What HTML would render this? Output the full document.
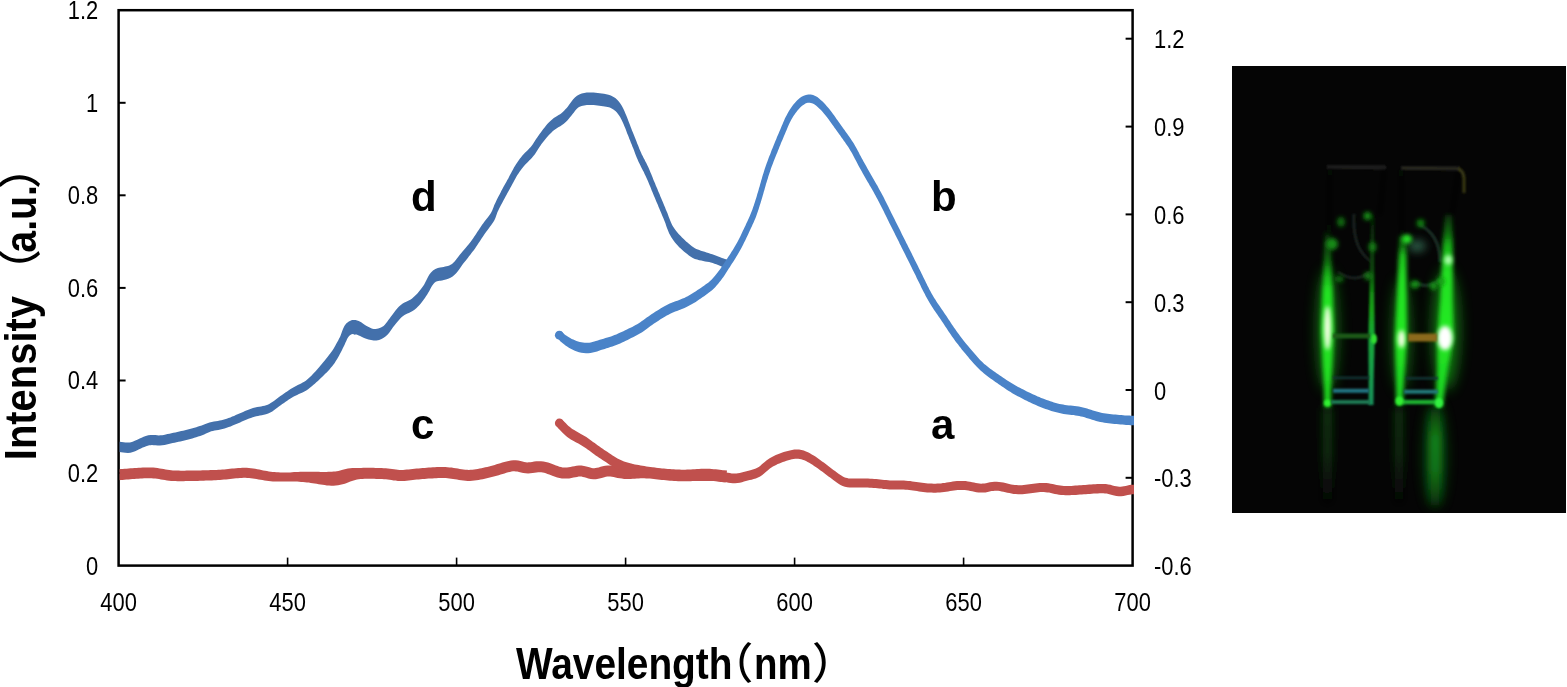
<!DOCTYPE html>
<html><head><meta charset="utf-8"><title>Spectra</title>
<style>html,body{margin:0;padding:0;background:#fff;width:1567px;height:687px;overflow:hidden}svg{display:block}</style>
</head><body>
<svg width="1567" height="687" viewBox="0 0 1567 687"><rect x="118.6" y="10.2" width="1014.0" height="555.4" fill="none" stroke="#000" stroke-width="2.5"/>
<text transform="translate(98.2 574.5) scale(0.86 1)" text-anchor="end" style="font-family:'Liberation Sans',sans-serif;font-size:25.5px;fill:#000">0</text>
<line x1="118.6" y1="473.0" x2="125.6" y2="473.0" stroke="#000" stroke-width="2"/>
<text transform="translate(98.2 481.9) scale(0.86 1)" text-anchor="end" style="font-family:'Liberation Sans',sans-serif;font-size:25.5px;fill:#000">0.2</text>
<line x1="118.6" y1="380.5" x2="125.6" y2="380.5" stroke="#000" stroke-width="2"/>
<text transform="translate(98.2 389.4) scale(0.86 1)" text-anchor="end" style="font-family:'Liberation Sans',sans-serif;font-size:25.5px;fill:#000">0.4</text>
<line x1="118.6" y1="287.9" x2="125.6" y2="287.9" stroke="#000" stroke-width="2"/>
<text transform="translate(98.2 296.8) scale(0.86 1)" text-anchor="end" style="font-family:'Liberation Sans',sans-serif;font-size:25.5px;fill:#000">0.6</text>
<line x1="118.6" y1="195.3" x2="125.6" y2="195.3" stroke="#000" stroke-width="2"/>
<text transform="translate(98.2 204.2) scale(0.86 1)" text-anchor="end" style="font-family:'Liberation Sans',sans-serif;font-size:25.5px;fill:#000">0.8</text>
<line x1="118.6" y1="102.8" x2="125.6" y2="102.8" stroke="#000" stroke-width="2"/>
<text transform="translate(98.2 111.7) scale(0.86 1)" text-anchor="end" style="font-family:'Liberation Sans',sans-serif;font-size:25.5px;fill:#000">1</text>
<text transform="translate(98.2 19.1) scale(0.86 1)" text-anchor="end" style="font-family:'Liberation Sans',sans-serif;font-size:25.5px;fill:#000">1.2</text>
<text transform="translate(1154.0 575.2) scale(0.86 1)" text-anchor="start" style="font-family:'Liberation Sans',sans-serif;font-size:25.5px;fill:#000">-0.6</text>
<line x1="1125.6" y1="477.8" x2="1132.6" y2="477.8" stroke="#000" stroke-width="2"/>
<text transform="translate(1154.0 487.4) scale(0.86 1)" text-anchor="start" style="font-family:'Liberation Sans',sans-serif;font-size:25.5px;fill:#000">-0.3</text>
<line x1="1125.6" y1="390.0" x2="1132.6" y2="390.0" stroke="#000" stroke-width="2"/>
<text transform="translate(1154.0 399.6) scale(0.86 1)" text-anchor="start" style="font-family:'Liberation Sans',sans-serif;font-size:25.5px;fill:#000">0</text>
<line x1="1125.6" y1="302.2" x2="1132.6" y2="302.2" stroke="#000" stroke-width="2"/>
<text transform="translate(1154.0 311.8) scale(0.86 1)" text-anchor="start" style="font-family:'Liberation Sans',sans-serif;font-size:25.5px;fill:#000">0.3</text>
<line x1="1125.6" y1="214.4" x2="1132.6" y2="214.4" stroke="#000" stroke-width="2"/>
<text transform="translate(1154.0 224.0) scale(0.86 1)" text-anchor="start" style="font-family:'Liberation Sans',sans-serif;font-size:25.5px;fill:#000">0.6</text>
<line x1="1125.6" y1="126.6" x2="1132.6" y2="126.6" stroke="#000" stroke-width="2"/>
<text transform="translate(1154.0 136.2) scale(0.86 1)" text-anchor="start" style="font-family:'Liberation Sans',sans-serif;font-size:25.5px;fill:#000">0.9</text>
<line x1="1125.6" y1="38.7" x2="1132.6" y2="38.7" stroke="#000" stroke-width="2"/>
<text transform="translate(1154.0 48.3) scale(0.86 1)" text-anchor="start" style="font-family:'Liberation Sans',sans-serif;font-size:25.5px;fill:#000">1.2</text>
<text transform="translate(118.6 610.8) scale(0.86 1)" text-anchor="middle" style="font-family:'Liberation Sans',sans-serif;font-size:25.5px;fill:#000">400</text>
<line x1="287.6" y1="565.6" x2="287.6" y2="557.6" stroke="#000" stroke-width="1.6"/>
<text transform="translate(287.6 610.8) scale(0.86 1)" text-anchor="middle" style="font-family:'Liberation Sans',sans-serif;font-size:25.5px;fill:#000">450</text>
<line x1="456.6" y1="565.6" x2="456.6" y2="557.6" stroke="#000" stroke-width="1.6"/>
<text transform="translate(456.6 610.8) scale(0.86 1)" text-anchor="middle" style="font-family:'Liberation Sans',sans-serif;font-size:25.5px;fill:#000">500</text>
<line x1="625.6" y1="565.6" x2="625.6" y2="557.6" stroke="#000" stroke-width="1.6"/>
<text transform="translate(625.6 610.8) scale(0.86 1)" text-anchor="middle" style="font-family:'Liberation Sans',sans-serif;font-size:25.5px;fill:#000">550</text>
<line x1="794.6" y1="565.6" x2="794.6" y2="557.6" stroke="#000" stroke-width="1.6"/>
<text transform="translate(794.6 610.8) scale(0.86 1)" text-anchor="middle" style="font-family:'Liberation Sans',sans-serif;font-size:25.5px;fill:#000">600</text>
<line x1="963.6" y1="565.6" x2="963.6" y2="557.6" stroke="#000" stroke-width="1.6"/>
<text transform="translate(963.6 610.8) scale(0.86 1)" text-anchor="middle" style="font-family:'Liberation Sans',sans-serif;font-size:25.5px;fill:#000">650</text>
<text transform="translate(1132.6 610.8) scale(0.86 1)" text-anchor="middle" style="font-family:'Liberation Sans',sans-serif;font-size:25.5px;fill:#000">700</text>
<clipPath id="plotclip"><rect x="119.6" y="0" width="1014.4" height="600"/></clipPath>
<g clip-path="url(#plotclip)">
<path d="M114.1 480.3 L117.9 480.2 L119.3 480.2 L120.8 480.1 L122.5 480.0 L124.4 479.8 L126.4 479.6 L128.4 479.5 L130.4 479.3 L132.4 479.1 L134.4 479.0 L136.3 478.8 L138.3 478.7 L140.3 478.5 L142.2 478.4 L144.1 478.3 L146.1 478.2 L147.9 478.2 L149.8 478.2 L151.6 478.3 L153.4 478.4 L155.3 478.6 L157.1 478.8 L159.0 479.1 L160.9 479.4 L162.9 479.8 L164.9 480.1 L167.0 480.4 L169.1 480.7 L171.2 480.9 L173.4 481.0 L175.5 481.1 L177.5 481.2 L179.6 481.2 L181.7 481.2 L183.7 481.2 L185.7 481.1 L187.7 481.1 L189.8 481.1 L191.8 481.0 L193.8 481.0 L195.8 480.9 L197.8 480.9 L199.8 480.8 L201.8 480.7 L203.8 480.7 L205.8 480.6 L207.8 480.5 L209.9 480.4 L211.9 480.4 L213.9 480.3 L215.9 480.2 L217.9 480.0 L220.0 479.9 L222.0 479.8 L224.0 479.6 L226.1 479.4 L228.1 479.2 L230.1 479.0 L232.1 478.8 L234.1 478.6 L236.1 478.3 L238.0 478.2 L239.9 478.0 L241.7 477.9 L243.6 477.8 L245.4 477.8 L247.2 477.9 L249.1 478.0 L250.9 478.2 L252.8 478.4 L254.6 478.7 L256.5 479.0 L258.5 479.4 L260.5 479.7 L262.5 480.1 L264.5 480.4 L266.5 480.7 L268.6 481.0 L270.7 481.2 L272.8 481.4 L274.9 481.5 L277.0 481.6 L279.1 481.6 L281.2 481.6 L283.2 481.6 L285.2 481.5 L287.3 481.5 L289.3 481.4 L291.3 481.4 L293.3 481.5 L295.2 481.6 L297.2 481.6 L299.2 481.7 L301.1 481.9 L303.0 482.0 L305.0 482.2 L306.9 482.4 L308.8 482.6 L310.7 482.9 L312.7 483.2 L314.6 483.5 L316.6 483.8 L318.6 484.2 L320.6 484.5 L322.6 484.8 L324.7 485.1 L326.8 485.4 L329.0 485.6 L331.2 485.7 L333.5 485.7 L335.8 485.5 L338.1 485.2 L340.4 484.8 L342.7 484.3 L344.8 483.7 L346.8 483.1 L348.6 482.3 L350.3 481.6 L352.0 481.0 L353.6 480.4 L355.3 480.0 L357.0 479.6 L358.8 479.2 L360.7 478.9 L362.6 478.9 L364.5 478.8 L366.4 478.8 L368.4 478.8 L370.3 478.8 L372.3 478.8 L374.3 478.8 L376.2 478.9 L378.2 478.9 L380.2 479.0 L382.1 479.1 L384.0 479.2 L385.9 479.3 L387.7 479.5 L389.6 479.8 L391.5 480.1 L393.5 480.4 L395.6 480.6 L397.8 480.9 L400.1 481.0 L402.3 481.0 L404.5 480.9 L406.7 480.7 L408.7 480.5 L410.8 480.3 L412.8 480.0 L414.7 479.8 L416.7 479.6 L418.6 479.4 L420.6 479.2 L422.5 479.1 L424.5 478.9 L426.5 478.8 L428.5 478.6 L430.4 478.5 L432.4 478.4 L434.4 478.3 L436.3 478.2 L438.2 478.1 L440.2 478.0 L442.0 478.0 L443.9 478.0 L445.8 478.1 L447.6 478.2 L449.4 478.4 L451.2 478.7 L453.1 478.9 L455.0 479.3 L457.0 479.6 L459.0 480.0 L461.1 480.3 L463.3 480.6 L465.5 480.8 L467.7 480.9 L469.9 480.9 L472.2 480.8 L474.4 480.6 L476.5 480.3 L478.6 479.9 L480.7 479.6 L482.8 479.2 L484.8 478.7 L486.8 478.3 L488.8 477.8 L490.8 477.3 L492.8 476.8 L494.8 476.3 L496.7 475.7 L498.7 475.2 L500.7 474.6 L502.6 474.0 L504.5 473.4 L506.3 472.8 L508.1 472.3 L509.9 471.9 L511.5 471.5 L513.0 471.3 L514.4 471.3 L515.9 471.4 L517.3 471.6 L519.0 472.0 L521.0 472.5 L523.2 473.0 L525.6 473.3 L528.1 473.4 L530.4 473.2 L532.6 473.0 L534.6 472.7 L536.5 472.4 L538.2 472.2 L539.7 472.2 L541.2 472.2 L542.7 472.4 L544.2 472.8 L545.8 473.3 L547.5 473.9 L549.2 474.6 L551.1 475.3 L553.0 476.1 L555.1 476.8 L557.2 477.5 L559.5 478.1 L561.9 478.5 L564.4 478.6 L566.8 478.6 L569.1 478.4 L571.4 478.0 L573.5 477.6 L575.4 477.2 L577.1 476.9 L578.7 476.6 L580.1 476.5 L581.5 476.6 L582.9 476.9 L584.4 477.3 L586.2 477.8 L588.3 478.5 L590.7 479.0 L593.3 479.3 L595.9 479.2 L598.3 478.8 L600.6 478.3 L602.6 477.7 L604.3 477.2 L605.9 476.8 L607.4 476.6 L608.8 476.5 L610.3 476.6 L611.9 476.8 L613.6 477.1 L615.5 477.5 L617.5 477.9 L619.7 478.3 L621.9 478.6 L624.1 478.9 L626.4 479.0 L628.6 479.0 L630.7 478.9 L632.8 478.8 L634.8 478.7 L636.8 478.5 L638.7 478.4 L640.6 478.3 L642.5 478.3 L644.3 478.3 L646.2 478.4 L648.1 478.5 L649.9 478.6 L651.8 478.8 L653.8 479.0 L655.7 479.3 L657.7 479.5 L659.8 479.7 L661.8 479.9 L663.8 480.1 L665.8 480.3 L667.9 480.5 L669.9 480.7 L671.9 480.8 L674.0 480.9 L676.0 481.1 L678.0 481.2 L680.1 481.3 L682.2 481.3 L684.3 481.3 L686.4 481.3 L688.5 481.3 L690.6 481.2 L692.6 481.1 L694.7 481.0 L696.7 480.8 L698.6 480.7 L700.5 480.6 L702.4 480.5 L704.3 480.5 L706.1 480.6 L708.0 480.6 L709.8 480.7 L711.7 480.9 L713.6 481.1 L715.6 481.3 L717.4 481.5 L719.2 481.7 L720.7 481.9 L722.0 482.1 L723.0 482.2 L725.6 482.6 L727.0 470.6 L724.0 470.3 L722.9 470.2 L721.4 470.0 L719.7 469.8 L717.8 469.6 L715.8 469.3 L713.8 469.2 L711.7 469.0 L709.6 468.8 L707.5 468.7 L705.3 468.7 L703.2 468.7 L701.1 468.8 L699.0 468.9 L696.9 469.0 L694.9 469.2 L692.9 469.3 L690.9 469.4 L689.0 469.6 L687.1 469.6 L685.2 469.7 L683.3 469.7 L681.4 469.7 L679.5 469.6 L677.6 469.5 L675.6 469.4 L673.7 469.3 L671.7 469.2 L669.8 469.1 L667.8 468.9 L665.8 468.8 L663.9 468.6 L661.9 468.4 L660.0 468.2 L658.0 468.0 L656.0 467.8 L654.0 467.6 L651.9 467.4 L649.8 467.2 L647.7 467.1 L645.6 467.0 L643.4 467.0 L641.3 467.0 L639.2 467.1 L637.1 467.2 L635.1 467.3 L633.1 467.5 L631.2 467.6 L629.3 467.7 L627.5 467.8 L625.7 467.7 L624.0 467.6 L622.3 467.4 L620.5 467.1 L618.7 466.8 L616.7 466.4 L614.6 466.0 L612.4 465.6 L610.0 465.5 L607.5 465.5 L605.1 465.7 L602.7 466.2 L600.6 466.8 L598.7 467.4 L597.0 467.8 L595.5 468.1 L594.3 468.3 L593.0 468.2 L591.7 468.0 L590.2 467.6 L588.4 467.0 L586.3 466.4 L584.0 465.9 L581.5 465.6 L578.9 465.6 L576.5 465.8 L574.3 466.2 L572.3 466.6 L570.4 467.0 L568.6 467.3 L567.0 467.6 L565.4 467.6 L563.9 467.6 L562.5 467.4 L561.0 467.1 L559.4 466.7 L557.7 466.1 L556.0 465.4 L554.2 464.7 L552.3 463.9 L550.3 463.2 L548.1 462.5 L545.9 461.9 L543.5 461.4 L541.0 461.2 L538.6 461.2 L536.3 461.3 L534.1 461.6 L532.1 461.9 L530.3 462.2 L528.7 462.3 L527.2 462.4 L525.8 462.3 L524.2 462.0 L522.5 461.6 L520.5 461.1 L518.3 460.6 L515.8 460.3 L513.3 460.3 L510.9 460.5 L508.6 460.9 L506.4 461.4 L504.3 462.0 L502.3 462.6 L500.3 463.2 L498.4 463.7 L496.5 464.3 L494.7 464.9 L492.8 465.4 L490.9 465.9 L489.1 466.4 L487.2 466.9 L485.3 467.3 L483.4 467.8 L481.5 468.2 L479.6 468.6 L477.7 468.9 L475.9 469.3 L474.1 469.5 L472.3 469.7 L470.5 469.8 L468.8 469.9 L467.1 469.8 L465.3 469.7 L463.5 469.5 L461.7 469.3 L459.8 469.0 L457.9 468.6 L455.9 468.3 L453.8 467.9 L451.7 467.6 L449.6 467.4 L447.4 467.2 L445.3 467.1 L443.1 467.0 L441.0 467.0 L438.9 467.1 L436.9 467.1 L434.8 467.2 L432.8 467.3 L430.7 467.5 L428.7 467.6 L426.7 467.7 L424.7 467.9 L422.7 468.0 L420.6 468.2 L418.6 468.4 L416.6 468.6 L414.5 468.8 L412.5 469.0 L410.5 469.2 L408.6 469.4 L406.7 469.6 L404.8 469.8 L403.0 469.9 L401.2 470.0 L399.5 469.9 L397.7 469.8 L396.0 469.6 L394.1 469.3 L392.1 469.0 L390.0 468.7 L387.9 468.5 L385.8 468.3 L383.7 468.2 L381.6 468.1 L379.6 468.0 L377.5 467.9 L375.5 467.9 L373.5 467.8 L371.4 467.8 L369.4 467.8 L367.4 467.8 L365.3 467.8 L363.2 467.8 L361.2 467.9 L359.0 467.9 L356.9 467.9 L354.7 467.9 L352.4 468.1 L350.2 468.3 L347.9 468.6 L345.8 469.0 L343.7 469.4 L341.8 469.9 L340.1 470.5 L338.4 470.9 L336.8 471.2 L335.2 471.5 L333.6 471.6 L331.9 471.7 L330.1 471.7 L328.3 471.8 L326.5 471.9 L324.6 471.9 L322.6 471.9 L320.7 471.9 L318.7 471.8 L316.7 471.8 L314.7 471.8 L312.6 471.7 L310.6 471.7 L308.5 471.7 L306.5 471.7 L304.4 471.7 L302.3 471.7 L300.2 471.8 L298.2 471.9 L296.1 472.0 L294.1 472.1 L292.1 472.2 L290.1 472.4 L288.1 472.4 L286.1 472.4 L284.2 472.4 L282.2 472.4 L280.3 472.4 L278.3 472.3 L276.4 472.2 L274.5 472.1 L272.7 471.9 L270.8 471.7 L268.9 471.4 L267.0 471.1 L265.1 470.7 L263.2 470.4 L261.3 470.0 L259.3 469.6 L257.3 469.2 L255.2 468.8 L253.2 468.5 L251.0 468.2 L248.9 468.0 L246.7 467.8 L244.6 467.8 L242.4 467.8 L240.3 467.9 L238.2 468.0 L236.1 468.2 L234.0 468.4 L232.0 468.6 L230.0 468.8 L228.1 469.0 L226.1 469.2 L224.2 469.4 L222.3 469.5 L220.3 469.7 L218.4 469.8 L216.4 469.9 L214.4 470.0 L212.4 470.0 L210.4 470.1 L208.5 470.2 L206.5 470.2 L204.5 470.3 L202.5 470.3 L200.5 470.4 L198.5 470.4 L196.5 470.5 L194.5 470.5 L192.5 470.5 L190.6 470.6 L188.6 470.6 L186.6 470.6 L184.6 470.7 L182.6 470.7 L180.7 470.7 L178.7 470.6 L176.8 470.6 L174.9 470.5 L173.0 470.4 L171.2 470.2 L169.4 470.0 L167.5 469.8 L165.6 469.4 L163.7 469.1 L161.7 468.7 L159.7 468.4 L157.6 468.0 L155.4 467.8 L153.3 467.6 L151.1 467.5 L149.0 467.4 L146.8 467.4 L144.7 467.5 L142.7 467.5 L140.6 467.7 L138.6 467.8 L136.6 467.9 L134.5 468.0 L132.5 468.2 L130.5 468.3 L128.5 468.5 L126.5 468.7 L124.6 468.8 L122.7 468.9 L120.9 469.1 L119.3 469.2 L118.1 469.2 L117.2 469.3 L113.9 469.3 Z" fill="#C0504D"/>
<path d="M555.3 425.0 L557.8 427.8 L558.6 428.7 L559.7 429.8 L560.9 431.1 L562.3 432.6 L563.9 434.0 L565.5 435.5 L567.2 436.9 L569.0 438.2 L570.8 439.4 L572.7 440.4 L574.5 441.4 L576.2 442.4 L577.9 443.3 L579.6 444.2 L581.2 445.2 L582.8 446.2 L584.4 447.2 L586.0 448.3 L587.6 449.5 L589.2 450.6 L590.8 451.8 L592.4 453.0 L594.1 454.2 L595.7 455.4 L597.4 456.5 L599.1 457.7 L600.8 458.8 L602.5 459.9 L604.1 461.0 L605.8 462.1 L607.5 463.2 L609.2 464.4 L611.0 465.5 L612.8 466.6 L614.6 467.7 L616.5 468.7 L618.5 469.7 L620.6 470.5 L622.6 471.3 L624.6 472.0 L626.7 472.5 L628.7 473.1 L630.7 473.6 L632.8 474.1 L634.8 474.5 L636.8 474.9 L638.8 475.2 L640.9 475.6 L642.9 475.9 L644.8 476.2 L646.8 476.5 L648.8 476.9 L650.7 477.2 L652.7 477.5 L654.6 477.9 L656.6 478.2 L658.7 478.6 L660.7 478.9 L662.8 479.2 L664.9 479.4 L666.9 479.6 L669.0 479.8 L671.0 479.9 L673.1 480.0 L675.1 480.2 L677.1 480.3 L679.1 480.3 L681.1 480.4 L683.1 480.5 L685.1 480.6 L687.2 480.7 L689.2 480.7 L691.2 480.8 L693.2 480.9 L695.2 480.9 L697.3 480.9 L699.3 481.0 L701.3 481.0 L703.3 481.0 L705.3 480.9 L707.3 480.9 L709.3 480.9 L711.2 480.9 L713.1 481.0 L715.0 481.0 L716.9 481.1 L718.8 481.3 L720.7 481.5 L722.6 481.7 L724.5 482.0 L726.4 482.3 L728.4 482.7 L730.5 483.0 L732.8 483.3 L735.2 483.3 L737.5 483.1 L739.8 482.7 L742.0 482.2 L744.0 481.6 L745.9 481.1 L747.8 480.6 L749.7 480.1 L751.6 479.7 L753.7 479.1 L755.8 478.4 L758.0 477.6 L760.1 476.5 L762.0 475.2 L763.8 473.8 L765.5 472.3 L767.0 471.0 L768.5 469.7 L769.9 468.5 L771.4 467.5 L772.9 466.5 L774.5 465.7 L776.1 464.9 L777.7 464.1 L779.4 463.4 L781.1 462.7 L782.9 462.0 L784.7 461.4 L786.5 460.8 L788.3 460.3 L790.1 459.8 L791.9 459.3 L793.6 459.0 L795.2 458.8 L796.8 458.7 L798.2 458.7 L799.7 458.9 L801.2 459.2 L802.7 459.7 L804.3 460.3 L806.0 461.1 L807.6 461.9 L809.2 462.8 L810.8 463.8 L812.5 464.8 L814.1 465.9 L815.7 467.0 L817.3 468.1 L818.9 469.3 L820.5 470.4 L822.1 471.6 L823.7 472.8 L825.3 474.0 L826.9 475.2 L828.5 476.4 L830.1 477.6 L831.7 478.8 L833.3 480.0 L835.0 481.2 L836.7 482.5 L838.5 483.7 L840.5 484.9 L842.6 485.9 L844.9 486.7 L847.2 487.2 L849.6 487.5 L851.8 487.6 L853.9 487.6 L856.0 487.5 L857.9 487.4 L859.9 487.4 L861.8 487.4 L863.7 487.4 L865.7 487.5 L867.6 487.6 L869.6 487.7 L871.5 487.8 L873.5 488.0 L875.5 488.1 L877.4 488.3 L879.4 488.5 L881.4 488.6 L883.3 488.9 L885.4 489.1 L887.4 489.2 L889.5 489.4 L891.6 489.5 L893.7 489.6 L895.7 489.6 L897.8 489.6 L899.8 489.6 L901.7 489.6 L903.6 489.6 L905.5 489.7 L907.3 489.8 L909.2 490.0 L911.1 490.2 L913.0 490.5 L915.0 490.8 L917.0 491.1 L919.0 491.4 L921.0 491.7 L923.1 492.0 L925.1 492.2 L927.2 492.4 L929.3 492.5 L931.4 492.6 L933.5 492.7 L935.6 492.7 L937.7 492.6 L939.9 492.5 L942.0 492.3 L944.1 492.0 L946.1 491.7 L948.1 491.4 L950.1 491.1 L952.1 490.7 L954.0 490.5 L955.9 490.2 L957.7 490.0 L959.5 489.9 L961.3 489.9 L963.0 489.9 L964.8 490.0 L966.6 490.2 L968.4 490.5 L970.3 490.9 L972.2 491.3 L974.2 491.8 L976.3 492.2 L978.5 492.5 L980.8 492.6 L983.2 492.6 L985.5 492.4 L987.6 492.0 L989.6 491.5 L991.5 491.1 L993.2 490.9 L994.8 490.7 L996.4 490.7 L998.1 490.8 L999.8 491.1 L1001.6 491.4 L1003.4 491.8 L1005.4 492.2 L1007.3 492.7 L1009.4 493.1 L1011.5 493.5 L1013.6 493.9 L1015.8 494.1 L1018.0 494.3 L1020.2 494.3 L1022.4 494.2 L1024.5 494.1 L1026.6 493.8 L1028.7 493.6 L1030.7 493.3 L1032.7 493.0 L1034.6 492.7 L1036.5 492.4 L1038.4 492.2 L1040.2 492.1 L1042.0 492.0 L1043.8 492.1 L1045.5 492.2 L1047.3 492.4 L1049.1 492.6 L1050.9 493.0 L1052.8 493.4 L1054.8 493.9 L1056.9 494.3 L1059.0 494.7 L1061.1 494.9 L1063.3 495.1 L1065.5 495.2 L1067.6 495.3 L1069.7 495.2 L1071.8 495.1 L1073.9 495.0 L1075.9 494.9 L1077.9 494.7 L1079.9 494.6 L1081.9 494.4 L1083.9 494.3 L1085.9 494.2 L1087.9 494.0 L1089.8 493.9 L1091.8 493.8 L1093.8 493.6 L1095.8 493.5 L1097.7 493.4 L1099.7 493.3 L1101.5 493.3 L1103.3 493.3 L1105.0 493.4 L1106.7 493.6 L1108.4 493.9 L1110.2 494.4 L1112.1 494.9 L1114.1 495.4 L1116.4 495.9 L1118.8 496.2 L1121.2 496.2 L1123.5 496.0 L1125.7 495.5 L1127.7 495.1 L1129.5 494.7 L1131.0 494.4 L1132.2 494.2 L1132.9 494.2 L1136.0 494.2 L1136.0 494.2 L1136.0 484.8 L1132.6 484.7 L1131.0 484.8 L1129.4 485.1 L1127.6 485.5 L1125.7 485.9 L1123.9 486.3 L1122.2 486.6 L1120.7 486.8 L1119.3 486.8 L1117.8 486.6 L1116.2 486.3 L1114.4 485.9 L1112.5 485.4 L1110.4 484.8 L1108.2 484.4 L1105.9 484.1 L1103.7 484.0 L1101.5 483.9 L1099.4 484.0 L1097.3 484.1 L1095.3 484.2 L1093.2 484.3 L1091.2 484.5 L1089.2 484.6 L1087.2 484.7 L1085.2 484.9 L1083.2 485.0 L1081.2 485.2 L1079.2 485.3 L1077.2 485.5 L1075.3 485.6 L1073.3 485.8 L1071.4 485.9 L1069.5 486.0 L1067.6 486.0 L1065.7 486.0 L1063.9 485.9 L1062.1 485.8 L1060.3 485.6 L1058.5 485.3 L1056.6 484.9 L1054.7 484.5 L1052.7 484.1 L1050.7 483.7 L1048.5 483.3 L1046.3 483.0 L1044.1 482.9 L1041.9 482.9 L1039.7 483.0 L1037.5 483.2 L1035.4 483.4 L1033.4 483.7 L1031.4 484.0 L1029.4 484.3 L1027.5 484.6 L1025.6 484.8 L1023.7 485.0 L1021.9 485.2 L1020.1 485.2 L1018.3 485.2 L1016.5 485.1 L1014.8 484.9 L1013.0 484.7 L1011.1 484.4 L1009.2 484.0 L1007.3 483.5 L1005.4 483.1 L1003.3 482.6 L1001.2 482.2 L999.0 481.9 L996.7 481.7 L994.4 481.7 L992.1 482.0 L989.9 482.3 L987.9 482.8 L986.0 483.2 L984.3 483.5 L982.6 483.6 L981.1 483.7 L979.4 483.6 L977.7 483.3 L975.9 483.0 L974.0 482.6 L972.1 482.2 L970.0 481.8 L967.9 481.4 L965.7 481.1 L963.5 480.9 L961.3 480.9 L959.1 480.9 L956.9 481.1 L954.8 481.3 L952.7 481.6 L950.7 481.9 L948.7 482.2 L946.7 482.6 L944.8 482.9 L942.9 483.1 L941.0 483.4 L939.2 483.5 L937.3 483.6 L935.5 483.7 L933.6 483.7 L931.7 483.6 L929.8 483.5 L927.9 483.4 L926.0 483.2 L924.1 483.0 L922.1 482.8 L920.2 482.6 L918.3 482.3 L916.3 482.0 L914.3 481.7 L912.3 481.4 L910.2 481.1 L908.1 480.9 L906.0 480.7 L903.9 480.6 L901.8 480.6 L899.7 480.6 L897.7 480.6 L895.8 480.6 L893.8 480.6 L891.9 480.5 L890.0 480.4 L888.1 480.3 L886.2 480.1 L884.2 479.9 L882.2 479.7 L880.2 479.5 L878.2 479.3 L876.2 479.1 L874.2 479.0 L872.1 478.8 L870.1 478.7 L868.1 478.6 L866.0 478.5 L864.0 478.4 L861.9 478.4 L859.8 478.4 L857.8 478.4 L855.7 478.5 L853.8 478.6 L852.0 478.6 L850.2 478.5 L848.6 478.4 L847.1 478.1 L845.7 477.7 L844.2 477.2 L842.8 476.5 L841.3 475.6 L839.7 474.5 L838.2 473.4 L836.6 472.2 L835.0 471.0 L833.4 469.9 L831.8 468.7 L830.2 467.4 L828.6 466.2 L827.0 465.0 L825.4 463.8 L823.8 462.6 L822.1 461.4 L820.5 460.2 L818.8 459.0 L817.1 457.8 L815.4 456.6 L813.7 455.5 L811.8 454.4 L809.9 453.3 L808.0 452.3 L806.0 451.4 L803.8 450.5 L801.5 449.9 L799.1 449.5 L796.7 449.4 L794.3 449.5 L792.0 449.9 L789.8 450.4 L787.8 450.9 L785.7 451.5 L783.7 452.1 L781.7 452.8 L779.8 453.5 L777.8 454.3 L775.8 455.1 L773.9 456.0 L772.0 457.0 L770.1 458.1 L768.2 459.2 L766.4 460.5 L764.7 461.9 L763.1 463.3 L761.6 464.6 L760.1 465.9 L758.7 466.9 L757.3 467.8 L755.8 468.6 L754.4 469.1 L752.8 469.6 L751.2 470.1 L749.4 470.5 L747.5 470.9 L745.5 471.4 L743.5 471.9 L741.6 472.4 L739.7 472.9 L738.0 473.3 L736.4 473.5 L734.9 473.6 L733.4 473.6 L731.7 473.4 L729.9 473.1 L728.0 472.8 L726.0 472.4 L724.0 472.1 L721.9 471.8 L719.8 471.5 L717.7 471.3 L715.6 471.2 L713.5 471.1 L711.4 471.0 L709.4 471.0 L707.3 471.0 L705.3 471.0 L703.3 471.0 L701.3 471.0 L699.4 471.0 L697.4 470.9 L695.4 470.9 L693.5 470.9 L691.5 470.8 L689.5 470.7 L687.5 470.7 L685.5 470.6 L683.5 470.5 L681.5 470.4 L679.6 470.4 L677.6 470.3 L675.6 470.2 L673.6 470.1 L671.7 470.0 L669.7 469.8 L667.8 469.7 L665.9 469.5 L664.0 469.3 L662.1 469.0 L660.2 468.8 L658.3 468.5 L656.3 468.1 L654.4 467.8 L652.4 467.4 L650.4 467.1 L648.4 466.7 L646.4 466.4 L644.4 466.1 L642.5 465.8 L640.6 465.5 L638.7 465.1 L636.8 464.8 L634.9 464.4 L633.0 463.9 L631.2 463.5 L629.3 463.0 L627.5 462.5 L625.7 462.0 L624.0 461.4 L622.4 460.8 L620.7 460.1 L619.1 459.3 L617.5 458.4 L615.9 457.5 L614.3 456.4 L612.6 455.4 L610.9 454.3 L609.3 453.2 L607.6 452.1 L606.0 451.0 L604.3 449.9 L602.7 448.8 L601.1 447.7 L599.5 446.6 L597.9 445.5 L596.3 444.3 L594.7 443.1 L593.0 441.9 L591.4 440.7 L589.7 439.5 L588.0 438.3 L586.3 437.1 L584.5 436.0 L582.7 434.9 L580.9 433.9 L579.2 432.9 L577.5 432.0 L575.8 431.1 L574.2 430.1 L572.7 429.2 L571.3 428.2 L569.9 427.1 L568.5 426.0 L567.2 424.8 L566.1 423.6 L565.1 422.6 L564.3 421.8 L561.7 419.0 L561.7 419.0 Z" fill="#C0504D"/>
<path d="M114.4 452.1 L117.5 451.9 L118.2 451.9 L119.6 452.0 L121.2 452.2 L123.2 452.5 L125.4 452.8 L127.9 452.9 L130.4 452.7 L132.9 452.1 L135.1 451.2 L137.2 450.2 L139.1 449.3 L140.9 448.4 L142.7 447.6 L144.4 446.9 L146.1 446.2 L147.7 445.7 L149.2 445.3 L150.6 445.2 L152.0 445.1 L153.6 445.2 L155.5 445.3 L157.7 445.5 L160.0 445.5 L162.3 445.3 L164.6 444.9 L166.7 444.5 L168.7 444.0 L170.7 443.6 L172.7 443.1 L174.6 442.7 L176.5 442.2 L178.5 441.8 L180.4 441.4 L182.4 440.9 L184.4 440.4 L186.4 440.0 L188.4 439.5 L190.3 438.9 L192.3 438.4 L194.3 437.8 L196.2 437.2 L198.2 436.6 L200.2 435.9 L202.2 435.2 L204.1 434.4 L206.0 433.5 L207.8 432.7 L209.6 431.9 L211.2 431.3 L212.9 430.9 L214.6 430.5 L216.4 430.2 L218.3 429.9 L220.4 429.5 L222.5 429.1 L224.6 428.5 L226.7 427.8 L228.7 427.1 L230.6 426.4 L232.6 425.6 L234.4 424.8 L236.3 424.0 L238.2 423.2 L240.1 422.4 L241.9 421.6 L243.7 420.8 L245.5 420.0 L247.3 419.2 L249.1 418.5 L250.9 417.9 L252.7 417.3 L254.4 416.8 L256.2 416.3 L258.0 415.9 L259.9 415.6 L261.8 415.2 L263.9 414.8 L266.0 414.3 L268.2 413.6 L270.3 412.6 L272.3 411.4 L274.2 410.1 L275.9 408.8 L277.6 407.6 L279.2 406.3 L280.7 405.2 L282.3 404.0 L284.0 402.9 L285.6 401.8 L287.2 400.7 L288.8 399.6 L290.5 398.5 L292.1 397.5 L293.8 396.6 L295.4 395.7 L297.1 394.9 L298.9 394.1 L300.7 393.3 L302.5 392.5 L304.4 391.5 L306.3 390.4 L308.1 389.2 L309.9 387.8 L311.5 386.5 L313.2 385.1 L314.8 383.7 L316.3 382.3 L317.9 380.9 L319.4 379.5 L320.9 378.1 L322.3 376.7 L323.8 375.3 L325.2 373.8 L326.7 372.4 L328.1 370.9 L329.5 369.4 L330.8 367.8 L332.2 366.2 L333.5 364.6 L334.7 362.9 L335.8 361.1 L337.0 359.3 L338.0 357.5 L339.0 355.7 L340.0 353.8 L341.0 352.0 L341.9 350.2 L342.8 348.3 L343.7 346.5 L344.6 344.7 L345.4 342.8 L346.3 340.9 L347.1 339.1 L348.0 337.4 L349.1 336.0 L350.3 334.9 L351.6 334.2 L352.8 334.0 L353.7 334.2 L354.2 334.6 L354.4 334.8 L354.6 334.7 L355.4 334.4 L356.6 334.6 L358.2 335.2 L360.1 336.0 L362.0 337.0 L364.1 337.9 L366.2 338.7 L368.5 339.5 L371.0 340.1 L373.7 340.6 L376.5 340.5 L379.1 339.9 L381.5 338.9 L383.7 337.8 L385.8 336.3 L387.7 334.6 L389.2 332.7 L390.6 330.8 L391.8 329.0 L393.0 327.3 L394.2 325.7 L395.4 324.2 L396.6 322.7 L397.9 321.2 L399.2 319.7 L400.5 318.3 L401.8 317.0 L403.1 315.9 L404.5 315.0 L405.9 314.2 L407.4 313.6 L408.9 312.9 L410.7 312.1 L412.6 311.0 L414.5 309.7 L416.3 308.2 L418.0 306.6 L419.5 304.9 L421.0 303.3 L422.3 301.6 L423.6 299.8 L424.9 298.1 L426.0 296.3 L427.2 294.5 L428.2 292.7 L429.3 290.9 L430.3 289.1 L431.2 287.3 L432.3 285.6 L433.4 284.1 L434.5 282.8 L435.8 281.8 L437.1 281.2 L438.3 280.9 L439.4 280.8 L440.5 280.7 L442.0 280.5 L443.8 280.1 L445.9 279.5 L448.2 278.7 L450.5 277.7 L452.6 276.4 L454.6 274.8 L456.4 273.0 L458.0 271.1 L459.3 269.2 L460.5 267.4 L461.7 265.7 L462.9 264.1 L464.1 262.6 L465.4 261.0 L466.6 259.4 L467.8 257.9 L469.0 256.3 L470.3 254.7 L471.5 253.1 L472.7 251.5 L474.0 249.9 L475.2 248.3 L476.3 246.6 L477.5 244.8 L478.6 243.1 L479.7 241.4 L480.8 239.7 L481.9 238.0 L483.0 236.4 L484.1 234.8 L485.3 233.1 L486.4 231.5 L487.6 230.0 L488.7 228.4 L489.9 226.8 L491.1 225.2 L492.3 223.6 L493.5 221.8 L494.5 219.9 L495.4 217.9 L496.1 215.9 L496.8 213.9 L497.5 212.0 L498.4 210.2 L499.2 208.5 L500.1 206.7 L501.0 205.0 L502.0 203.3 L502.9 201.5 L503.8 199.8 L504.8 198.0 L505.7 196.3 L506.7 194.5 L507.6 192.8 L508.6 191.1 L509.6 189.3 L510.5 187.6 L511.5 185.8 L512.4 184.0 L513.4 182.3 L514.3 180.5 L515.3 178.7 L516.2 177.0 L517.2 175.3 L518.3 173.7 L519.4 172.1 L520.5 170.6 L521.6 169.0 L522.8 167.5 L524.0 166.1 L525.3 164.6 L526.6 163.2 L527.9 161.9 L529.2 160.5 L530.6 159.2 L532.0 157.7 L533.4 156.1 L534.7 154.4 L536.0 152.6 L537.1 150.8 L538.2 149.0 L539.3 147.3 L540.4 145.7 L541.5 144.1 L542.7 142.6 L543.9 141.0 L545.1 139.5 L546.3 138.0 L547.6 136.5 L548.9 135.1 L550.2 133.7 L551.5 132.4 L552.9 131.1 L554.3 129.9 L555.7 128.9 L557.2 128.0 L558.7 127.1 L560.3 126.2 L562.0 125.1 L563.8 123.8 L565.5 122.3 L567.1 120.7 L568.6 119.0 L570.0 117.3 L571.3 115.7 L572.6 114.0 L573.9 112.4 L575.1 110.8 L576.4 109.3 L577.7 108.1 L579.0 107.1 L580.3 106.5 L581.6 106.0 L582.8 105.7 L584.1 105.4 L585.5 105.2 L586.9 105.1 L588.5 105.0 L590.1 105.0 L591.9 105.0 L593.7 105.1 L595.6 105.3 L597.5 105.5 L599.4 105.7 L601.2 105.9 L603.0 106.2 L604.7 106.4 L606.2 106.7 L607.6 107.0 L609.0 107.3 L610.3 107.8 L611.7 108.4 L613.0 109.2 L614.4 110.2 L615.7 111.3 L616.9 112.6 L618.0 114.0 L619.1 115.5 L620.1 117.1 L621.0 118.8 L621.9 120.6 L622.7 122.3 L623.5 124.1 L624.3 125.9 L625.1 127.8 L625.8 129.6 L626.5 131.5 L627.2 133.4 L628.0 135.3 L628.7 137.1 L629.4 139.0 L630.2 140.8 L630.9 142.7 L631.7 144.5 L632.4 146.4 L633.2 148.2 L633.9 150.1 L634.6 152.0 L635.3 153.9 L636.0 155.8 L636.8 157.7 L637.6 159.6 L638.4 161.5 L639.3 163.3 L640.2 165.1 L641.1 166.9 L642.0 168.7 L642.9 170.4 L643.8 172.1 L644.6 173.9 L645.5 175.7 L646.3 177.5 L647.1 179.3 L647.9 181.1 L648.7 182.9 L649.4 184.8 L650.2 186.6 L651.0 188.5 L651.7 190.4 L652.5 192.2 L653.2 194.0 L654.0 195.9 L654.8 197.7 L655.5 199.6 L656.3 201.4 L657.1 203.3 L657.9 205.1 L658.6 207.0 L659.4 208.8 L660.2 210.7 L661.0 212.5 L661.7 214.3 L662.5 216.2 L663.3 218.0 L664.0 219.8 L664.8 221.7 L665.5 223.6 L666.1 225.5 L666.8 227.4 L667.6 229.4 L668.4 231.4 L669.2 233.4 L670.2 235.3 L671.3 237.2 L672.5 239.0 L673.7 240.7 L675.0 242.4 L676.3 244.0 L677.7 245.6 L679.2 247.2 L680.7 248.6 L682.3 250.1 L683.9 251.5 L685.5 252.8 L687.2 254.1 L688.9 255.4 L690.8 256.7 L692.8 257.9 L694.9 258.9 L697.1 259.6 L699.2 260.2 L701.3 260.6 L703.2 261.0 L705.2 261.4 L707.1 261.8 L709.1 262.1 L710.9 262.5 L712.7 263.1 L714.5 263.7 L716.3 264.3 L718.1 265.0 L719.9 265.8 L721.5 266.4 L723.1 267.0 L724.2 267.4 L726.7 268.0 L728.7 260.0 L725.9 259.3 L725.0 259.1 L723.6 258.6 L722.0 258.0 L720.2 257.2 L718.2 256.5 L716.3 255.7 L714.3 255.0 L712.3 254.3 L710.3 253.7 L708.4 253.0 L706.5 252.4 L704.6 251.8 L702.7 251.2 L700.9 250.7 L699.3 250.1 L697.8 249.6 L696.3 248.9 L694.9 248.2 L693.4 247.2 L691.9 246.2 L690.4 245.0 L688.9 243.8 L687.5 242.6 L686.1 241.4 L684.7 240.1 L683.4 238.8 L682.0 237.5 L680.7 236.1 L679.4 234.8 L678.2 233.4 L677.0 232.0 L675.8 230.5 L674.7 229.0 L673.7 227.5 L672.7 225.9 L671.8 224.2 L671.0 222.4 L670.2 220.6 L669.5 218.8 L668.8 216.9 L668.1 215.0 L667.4 213.1 L666.6 211.2 L665.8 209.4 L665.1 207.5 L664.3 205.7 L663.5 203.8 L662.8 202.0 L662.0 200.2 L661.2 198.3 L660.4 196.5 L659.7 194.6 L658.9 192.8 L658.1 190.9 L657.4 189.1 L656.6 187.2 L655.8 185.4 L655.1 183.6 L654.3 181.7 L653.5 179.9 L652.8 178.0 L652.0 176.1 L651.3 174.2 L650.5 172.4 L649.7 170.5 L648.9 168.6 L648.1 166.8 L647.2 164.9 L646.3 163.1 L645.4 161.4 L644.5 159.6 L643.6 157.9 L642.7 156.1 L641.8 154.4 L641.0 152.6 L640.2 150.8 L639.4 149.0 L638.7 147.1 L638.0 145.3 L637.2 143.4 L636.5 141.5 L635.8 139.7 L635.0 137.8 L634.3 136.0 L633.5 134.1 L632.8 132.3 L632.0 130.4 L631.3 128.6 L630.6 126.7 L629.9 124.8 L629.2 122.9 L628.4 121.0 L627.7 119.1 L627.0 117.2 L626.2 115.3 L625.4 113.4 L624.6 111.4 L623.7 109.4 L622.7 107.4 L621.6 105.5 L620.3 103.5 L618.8 101.6 L617.2 99.8 L615.3 98.1 L613.1 96.7 L610.8 95.6 L608.5 94.8 L606.2 94.2 L604.0 93.8 L601.9 93.5 L599.8 93.2 L597.7 93.0 L595.7 92.8 L593.5 92.6 L591.3 92.5 L589.1 92.5 L586.7 92.6 L584.2 92.9 L581.7 93.6 L579.3 94.5 L577.0 95.8 L574.9 97.4 L573.2 99.2 L571.7 101.2 L570.4 103.0 L569.1 104.8 L567.9 106.4 L566.7 107.9 L565.4 109.3 L564.1 110.7 L562.8 112.0 L561.4 113.2 L560.1 114.2 L558.6 115.1 L557.1 115.9 L555.5 116.9 L553.8 118.0 L552.1 119.4 L550.4 120.9 L548.8 122.5 L547.3 124.1 L545.9 125.8 L544.6 127.4 L543.3 129.0 L542.0 130.7 L540.8 132.4 L539.6 134.1 L538.4 135.7 L537.2 137.4 L536.1 139.1 L535.0 140.8 L533.9 142.6 L532.8 144.2 L531.7 145.8 L530.5 147.3 L529.2 148.6 L527.9 149.9 L526.6 151.2 L525.2 152.5 L523.8 154.0 L522.4 155.5 L521.1 157.2 L519.8 158.8 L518.6 160.5 L517.4 162.2 L516.2 164.0 L515.1 165.7 L514.0 167.5 L513.0 169.4 L512.0 171.2 L511.1 173.0 L510.1 174.8 L509.2 176.6 L508.3 178.4 L507.3 180.1 L506.3 181.9 L505.4 183.6 L504.4 185.3 L503.4 187.1 L502.5 188.8 L501.5 190.6 L500.6 192.4 L499.7 194.2 L498.7 196.0 L497.8 197.8 L496.9 199.6 L496.0 201.4 L495.2 203.2 L494.3 205.1 L493.6 207.0 L492.8 208.9 L492.1 210.8 L491.2 212.5 L490.3 214.1 L489.2 215.6 L488.1 217.0 L486.9 218.4 L485.7 219.9 L484.5 221.5 L483.3 223.2 L482.1 224.8 L481.0 226.5 L479.8 228.2 L478.7 229.9 L477.6 231.6 L476.5 233.3 L475.4 235.0 L474.3 236.6 L473.2 238.3 L472.1 239.8 L470.9 241.4 L469.7 242.9 L468.5 244.4 L467.2 245.9 L466.0 247.4 L464.7 249.0 L463.4 250.5 L462.1 252.0 L460.9 253.6 L459.6 255.1 L458.3 256.7 L457.1 258.3 L455.8 259.9 L454.6 261.4 L453.3 262.8 L452.0 263.9 L450.6 264.8 L449.3 265.5 L447.9 265.9 L446.5 266.3 L445.1 266.6 L443.6 266.9 L442.0 267.2 L440.1 267.4 L437.8 267.9 L435.4 268.9 L433.0 270.4 L431.0 272.4 L429.4 274.6 L428.1 276.7 L427.1 278.8 L426.1 280.8 L425.2 282.6 L424.2 284.4 L423.2 286.0 L422.1 287.6 L421.0 289.1 L419.8 290.6 L418.6 292.1 L417.4 293.5 L416.1 294.8 L414.8 296.1 L413.4 297.3 L412.1 298.4 L410.7 299.4 L409.2 300.2 L407.8 300.9 L406.2 301.7 L404.5 302.5 L402.7 303.6 L400.8 305.0 L399.0 306.6 L397.4 308.3 L395.9 310.1 L394.6 311.8 L393.3 313.5 L392.0 315.2 L390.8 316.8 L389.6 318.5 L388.4 320.1 L387.2 321.8 L386.0 323.3 L384.8 324.8 L383.6 325.9 L382.3 326.8 L381.0 327.5 L379.6 328.0 L378.3 328.4 L377.0 328.7 L375.8 328.9 L374.7 329.0 L373.7 329.0 L372.5 328.8 L371.1 328.3 L369.7 327.6 L368.1 326.8 L366.6 326.0 L365.0 325.0 L363.2 323.8 L361.2 322.3 L358.7 320.9 L355.6 319.9 L352.0 320.1 L348.8 321.4 L346.2 323.5 L344.4 326.0 L343.2 328.5 L342.3 330.8 L341.5 333.0 L340.8 335.0 L340.0 336.9 L339.1 338.6 L338.2 340.4 L337.3 342.1 L336.3 343.8 L335.4 345.5 L334.4 347.2 L333.4 348.9 L332.4 350.5 L331.3 352.1 L330.2 353.6 L329.0 355.1 L327.9 356.6 L326.7 358.1 L325.5 359.5 L324.3 361.0 L323.0 362.5 L321.8 364.0 L320.5 365.5 L319.3 367.0 L318.0 368.5 L316.7 369.9 L315.4 371.4 L314.1 372.8 L312.7 374.3 L311.4 375.7 L310.0 377.0 L308.6 378.3 L307.2 379.6 L305.8 380.7 L304.2 381.7 L302.7 382.6 L301.1 383.5 L299.5 384.3 L297.8 385.1 L296.0 386.0 L294.2 387.0 L292.4 388.0 L290.6 389.1 L288.8 390.3 L287.1 391.4 L285.4 392.6 L283.7 393.8 L282.0 394.9 L280.4 396.1 L278.7 397.3 L277.1 398.5 L275.5 399.7 L273.9 401.0 L272.3 402.1 L270.7 403.1 L269.2 404.0 L267.7 404.7 L266.1 405.2 L264.6 405.7 L262.9 406.0 L261.1 406.4 L259.2 406.7 L257.2 407.1 L255.1 407.6 L253.0 408.1 L251.0 408.8 L249.0 409.5 L247.0 410.3 L245.0 411.1 L243.1 411.9 L241.3 412.7 L239.4 413.5 L237.6 414.3 L235.8 415.1 L234.0 415.9 L232.2 416.6 L230.4 417.4 L228.5 418.1 L226.7 418.7 L225.0 419.3 L223.2 419.8 L221.4 420.3 L219.7 420.6 L217.8 420.9 L215.9 421.2 L213.9 421.5 L211.7 421.9 L209.5 422.5 L207.4 423.2 L205.4 424.0 L203.5 424.7 L201.7 425.4 L199.9 426.0 L198.1 426.6 L196.3 427.2 L194.4 427.7 L192.6 428.2 L190.7 428.7 L188.8 429.2 L186.9 429.7 L185.0 430.2 L183.1 430.7 L181.2 431.1 L179.3 431.5 L177.3 431.9 L175.4 432.4 L173.4 432.8 L171.4 433.3 L169.5 433.7 L167.5 434.1 L165.7 434.6 L163.8 434.9 L162.1 435.2 L160.4 435.3 L158.8 435.4 L157.2 435.3 L155.3 435.1 L153.1 435.0 L150.7 435.0 L148.2 435.3 L145.8 436.0 L143.6 436.8 L141.6 437.7 L139.7 438.6 L137.8 439.5 L136.0 440.3 L134.2 441.1 L132.6 441.8 L131.0 442.3 L129.7 442.5 L128.4 442.6 L127.0 442.6 L125.4 442.5 L123.6 442.2 L121.7 441.9 L119.8 441.7 L117.9 441.6 L116.6 441.6 L113.6 441.9 Z" fill="#4370AB"/>
<path d="M555.9 336.8 L559.7 340.5 L560.5 341.4 L561.5 342.3 L562.7 343.3 L564.0 344.3 L565.5 345.5 L567.1 346.6 L568.9 347.7 L570.8 348.8 L572.8 349.8 L574.8 350.8 L576.9 351.6 L579.0 352.3 L581.3 352.8 L583.6 353.1 L585.9 353.3 L588.3 353.2 L590.6 353.0 L592.8 352.6 L595.0 352.0 L597.1 351.4 L599.0 350.7 L600.9 350.1 L602.8 349.5 L604.7 348.9 L606.5 348.3 L608.5 347.8 L610.4 347.1 L612.4 346.5 L614.3 345.8 L616.3 345.0 L618.2 344.3 L620.2 343.4 L622.1 342.6 L623.9 341.7 L625.8 340.8 L627.6 339.9 L629.4 339.0 L631.2 338.1 L633.0 337.2 L634.9 336.3 L636.7 335.3 L638.5 334.3 L640.3 333.3 L642.1 332.2 L643.9 331.0 L645.6 329.8 L647.3 328.5 L648.9 327.3 L650.5 326.1 L652.1 325.0 L653.7 323.8 L655.3 322.8 L656.9 321.7 L658.5 320.7 L660.1 319.6 L661.8 318.6 L663.5 317.6 L665.2 316.6 L666.8 315.6 L668.5 314.7 L670.2 313.8 L671.8 313.0 L673.5 312.3 L675.2 311.5 L677.0 310.9 L678.8 310.2 L680.7 309.5 L682.6 308.7 L684.5 307.9 L686.5 307.1 L688.4 306.1 L690.2 305.1 L692.1 304.1 L693.9 303.0 L695.7 301.9 L697.4 300.8 L699.1 299.6 L700.8 298.5 L702.4 297.3 L704.1 296.2 L705.7 295.0 L707.4 293.8 L709.0 292.6 L710.7 291.3 L712.3 289.9 L713.9 288.4 L715.4 286.9 L716.8 285.3 L718.2 283.7 L719.5 282.1 L720.8 280.5 L722.0 278.8 L723.2 277.2 L724.4 275.5 L725.5 273.8 L726.6 272.1 L727.7 270.3 L728.8 268.6 L729.9 267.0 L730.9 265.3 L732.0 263.6 L733.1 261.9 L734.2 260.3 L735.3 258.6 L736.3 256.8 L737.4 255.1 L738.4 253.3 L739.4 251.5 L740.4 249.7 L741.4 248.0 L742.3 246.2 L743.2 244.4 L744.1 242.5 L745.1 240.7 L745.9 238.9 L746.8 237.1 L747.7 235.3 L748.5 233.4 L749.4 231.6 L750.2 229.8 L751.0 228.0 L751.9 226.2 L752.7 224.3 L753.6 222.5 L754.4 220.6 L755.2 218.8 L755.9 216.9 L756.6 214.9 L757.3 213.0 L758.0 211.1 L758.6 209.2 L759.2 207.2 L759.8 205.3 L760.4 203.4 L761.0 201.5 L761.6 199.5 L762.2 197.6 L762.7 195.7 L763.3 193.7 L763.8 191.8 L764.4 189.9 L764.9 188.0 L765.5 186.0 L766.0 184.1 L766.6 182.2 L767.2 180.3 L767.8 178.4 L768.3 176.5 L769.0 174.6 L769.6 172.8 L770.2 170.9 L770.8 169.0 L771.5 167.1 L772.2 165.3 L772.9 163.4 L773.6 161.6 L774.3 159.8 L775.0 157.9 L775.8 156.1 L776.5 154.2 L777.3 152.4 L778.0 150.5 L778.8 148.7 L779.5 146.8 L780.3 145.0 L781.0 143.1 L781.8 141.3 L782.6 139.5 L783.4 137.6 L784.1 135.8 L784.9 133.9 L785.7 132.1 L786.5 130.3 L787.2 128.4 L788.0 126.6 L788.8 124.8 L789.6 123.1 L790.5 121.3 L791.4 119.6 L792.3 118.0 L793.3 116.3 L794.4 114.8 L795.4 113.2 L796.6 111.7 L797.7 110.2 L798.9 108.9 L800.2 107.5 L801.5 106.3 L802.8 105.3 L804.1 104.4 L805.4 103.6 L806.7 103.1 L807.8 102.8 L808.9 102.7 L809.8 102.7 L810.9 102.9 L812.0 103.2 L813.3 103.8 L814.6 104.6 L816.0 105.6 L817.4 106.7 L818.7 108.0 L820.1 109.3 L821.4 110.6 L822.7 112.0 L823.9 113.5 L825.2 115.0 L826.4 116.5 L827.6 118.0 L828.7 119.6 L829.9 121.2 L831.0 122.8 L832.2 124.4 L833.4 126.1 L834.5 127.7 L835.7 129.3 L836.9 131.0 L838.0 132.6 L839.2 134.2 L840.4 135.8 L841.5 137.5 L842.7 139.1 L843.8 140.7 L845.0 142.3 L846.1 143.9 L847.2 145.5 L848.3 147.1 L849.3 148.7 L850.3 150.4 L851.3 152.1 L852.3 153.8 L853.2 155.5 L854.1 157.3 L855.0 159.1 L856.0 160.8 L856.9 162.6 L857.9 164.4 L858.8 166.2 L859.8 167.9 L860.8 169.7 L861.8 171.4 L862.7 173.2 L863.7 174.9 L864.7 176.7 L865.7 178.4 L866.7 180.2 L867.7 181.9 L868.7 183.6 L869.7 185.4 L870.7 187.1 L871.7 188.8 L872.7 190.5 L873.7 192.3 L874.6 194.0 L875.6 195.7 L876.5 197.5 L877.5 199.2 L878.4 201.0 L879.3 202.7 L880.2 204.5 L881.1 206.3 L882.0 208.0 L882.9 209.8 L883.8 211.6 L884.7 213.4 L885.6 215.2 L886.5 217.0 L887.3 218.8 L888.2 220.6 L889.1 222.4 L890.0 224.2 L890.9 226.0 L891.8 227.8 L892.7 229.5 L893.6 231.3 L894.5 233.1 L895.4 234.9 L896.3 236.7 L897.2 238.5 L898.1 240.3 L899.0 242.1 L899.8 243.9 L900.7 245.6 L901.6 247.4 L902.5 249.2 L903.4 251.0 L904.3 252.8 L905.2 254.6 L906.1 256.4 L907.0 258.2 L907.9 260.0 L908.8 261.7 L909.7 263.5 L910.5 265.3 L911.4 267.1 L912.3 268.9 L913.2 270.7 L914.1 272.5 L915.0 274.3 L915.9 276.1 L916.7 277.9 L917.6 279.7 L918.5 281.4 L919.4 283.2 L920.3 285.1 L921.1 286.9 L922.0 288.7 L922.9 290.5 L923.8 292.3 L924.8 294.1 L925.7 295.9 L926.7 297.7 L927.7 299.5 L928.7 301.2 L929.7 303.0 L930.8 304.7 L931.9 306.5 L933.0 308.2 L934.1 309.9 L935.2 311.5 L936.4 313.2 L937.5 314.8 L938.6 316.5 L939.7 318.1 L940.9 319.8 L942.0 321.4 L943.1 323.1 L944.2 324.7 L945.3 326.4 L946.4 328.1 L947.5 329.7 L948.6 331.4 L949.7 333.1 L950.9 334.8 L952.0 336.4 L953.2 338.1 L954.4 339.7 L955.6 341.4 L956.8 343.0 L958.1 344.6 L959.3 346.2 L960.6 347.8 L961.8 349.4 L963.1 350.9 L964.4 352.5 L965.7 354.0 L966.9 355.6 L968.2 357.1 L969.5 358.7 L970.9 360.2 L972.2 361.7 L973.5 363.3 L974.9 364.8 L976.3 366.3 L977.8 367.8 L979.3 369.3 L980.8 370.7 L982.4 372.1 L984.0 373.4 L985.6 374.7 L987.2 376.0 L988.8 377.2 L990.5 378.4 L992.1 379.6 L993.8 380.7 L995.4 381.9 L997.1 383.0 L998.7 384.2 L1000.3 385.3 L1002.0 386.5 L1003.7 387.6 L1005.4 388.8 L1007.1 389.9 L1008.8 391.0 L1010.6 392.1 L1012.3 393.2 L1014.1 394.2 L1015.9 395.2 L1017.7 396.2 L1019.5 397.1 L1021.3 398.1 L1023.1 399.0 L1024.9 399.9 L1026.7 400.8 L1028.5 401.7 L1030.3 402.6 L1032.2 403.5 L1034.0 404.3 L1035.9 405.1 L1037.8 405.9 L1039.7 406.7 L1041.6 407.5 L1043.5 408.2 L1045.5 408.9 L1047.4 409.6 L1049.4 410.3 L1051.3 410.9 L1053.3 411.5 L1055.3 412.1 L1057.4 412.6 L1059.4 413.1 L1061.5 413.5 L1063.6 413.9 L1065.6 414.2 L1067.7 414.5 L1069.7 414.7 L1071.7 414.9 L1073.6 415.1 L1075.5 415.4 L1077.4 415.7 L1079.2 416.0 L1081.0 416.4 L1082.8 416.8 L1084.6 417.3 L1086.4 417.9 L1088.3 418.5 L1090.2 419.1 L1092.1 419.7 L1094.1 420.3 L1096.1 420.9 L1098.1 421.4 L1100.2 421.9 L1102.3 422.3 L1104.4 422.7 L1106.4 423.0 L1108.5 423.3 L1110.5 423.5 L1112.5 423.7 L1114.5 423.9 L1116.5 424.1 L1118.6 424.3 L1120.5 424.5 L1122.5 424.6 L1124.4 424.8 L1126.1 424.9 L1127.7 425.0 L1129.1 425.1 L1130.3 425.2 L1131.4 425.2 L1135.9 425.3 L1135.9 425.3 L1136.1 415.9 L1131.7 415.7 L1130.8 415.7 L1129.6 415.6 L1128.3 415.6 L1126.7 415.5 L1125.0 415.4 L1123.2 415.2 L1121.3 415.1 L1119.4 414.9 L1117.4 414.7 L1115.5 414.6 L1113.5 414.4 L1111.5 414.2 L1109.6 414.0 L1107.7 413.7 L1105.8 413.5 L1103.9 413.2 L1102.1 412.9 L1100.3 412.5 L1098.5 412.0 L1096.6 411.5 L1094.8 411.0 L1092.9 410.4 L1091.0 409.8 L1089.1 409.2 L1087.1 408.6 L1085.1 408.0 L1083.0 407.4 L1081.0 407.0 L1078.9 406.6 L1076.8 406.3 L1074.7 406.0 L1072.7 405.8 L1070.7 405.6 L1068.8 405.4 L1066.9 405.2 L1065.0 404.9 L1063.1 404.6 L1061.3 404.2 L1059.5 403.9 L1057.6 403.4 L1055.8 402.9 L1053.9 402.4 L1052.1 401.8 L1050.3 401.2 L1048.4 400.6 L1046.6 399.9 L1044.8 399.3 L1042.9 398.6 L1041.1 397.9 L1039.4 397.1 L1037.6 396.4 L1035.8 395.6 L1034.0 394.8 L1032.2 393.9 L1030.4 393.1 L1028.6 392.2 L1026.9 391.4 L1025.1 390.5 L1023.3 389.6 L1021.6 388.7 L1019.9 387.8 L1018.1 386.9 L1016.4 386.0 L1014.7 385.0 L1013.1 384.1 L1011.4 383.1 L1009.8 382.0 L1008.1 381.0 L1006.5 379.9 L1004.8 378.8 L1003.2 377.7 L1001.5 376.5 L999.9 375.4 L998.2 374.3 L996.6 373.2 L995.0 372.0 L993.4 370.9 L991.8 369.8 L990.2 368.7 L988.7 367.5 L987.2 366.3 L985.7 365.1 L984.2 363.9 L982.8 362.6 L981.5 361.3 L980.1 359.9 L978.8 358.5 L977.5 357.1 L976.2 355.6 L974.9 354.1 L973.6 352.6 L972.3 351.1 L971.0 349.6 L969.7 348.0 L968.5 346.5 L967.2 345.0 L965.9 343.5 L964.7 341.9 L963.5 340.4 L962.2 338.8 L961.0 337.3 L959.9 335.7 L958.7 334.1 L957.5 332.5 L956.4 330.9 L955.3 329.3 L954.1 327.7 L953.0 326.0 L951.9 324.4 L950.8 322.7 L949.7 321.1 L948.6 319.4 L947.5 317.7 L946.4 316.0 L945.3 314.4 L944.1 312.7 L943.0 311.0 L941.9 309.4 L940.7 307.8 L939.6 306.1 L938.5 304.5 L937.4 302.9 L936.3 301.2 L935.3 299.6 L934.2 297.9 L933.2 296.3 L932.2 294.6 L931.3 292.9 L930.3 291.1 L929.4 289.4 L928.5 287.6 L927.6 285.9 L926.7 284.1 L925.8 282.3 L925.0 280.5 L924.1 278.7 L923.2 276.9 L922.3 275.1 L921.4 273.3 L920.6 271.5 L919.7 269.7 L918.8 267.9 L917.9 266.1 L917.0 264.3 L916.1 262.6 L915.2 260.8 L914.3 259.0 L913.5 257.2 L912.6 255.4 L911.7 253.6 L910.8 251.8 L909.9 250.0 L909.0 248.2 L908.1 246.4 L907.2 244.6 L906.3 242.9 L905.4 241.1 L904.5 239.3 L903.6 237.5 L902.7 235.7 L901.8 233.9 L900.9 232.1 L900.1 230.3 L899.2 228.5 L898.3 226.8 L897.4 225.0 L896.5 223.2 L895.6 221.4 L894.7 219.6 L893.8 217.8 L892.9 216.0 L892.0 214.2 L891.1 212.4 L890.3 210.7 L889.4 208.9 L888.5 207.1 L887.6 205.3 L886.7 203.5 L885.8 201.7 L884.9 199.9 L884.0 198.1 L883.1 196.3 L882.1 194.5 L881.2 192.7 L880.2 190.9 L879.2 189.2 L878.3 187.4 L877.3 185.6 L876.3 183.9 L875.3 182.2 L874.3 180.4 L873.3 178.7 L872.3 177.0 L871.3 175.2 L870.3 173.5 L869.3 171.8 L868.3 170.0 L867.3 168.3 L866.4 166.6 L865.4 164.8 L864.4 163.1 L863.5 161.4 L862.5 159.6 L861.6 157.9 L860.6 156.1 L859.7 154.4 L858.8 152.6 L857.8 150.8 L856.9 149.0 L855.9 147.2 L854.9 145.4 L853.8 143.6 L852.8 141.9 L851.6 140.2 L850.5 138.5 L849.3 136.8 L848.2 135.2 L847.0 133.5 L845.8 131.9 L844.7 130.3 L843.5 128.7 L842.3 127.0 L841.2 125.4 L840.0 123.8 L838.9 122.2 L837.7 120.5 L836.5 118.9 L835.4 117.3 L834.2 115.6 L833.0 114.0 L831.8 112.3 L830.6 110.7 L829.3 109.1 L828.0 107.4 L826.6 105.9 L825.2 104.3 L823.8 102.8 L822.3 101.3 L820.7 99.9 L819.1 98.4 L817.3 97.1 L815.3 95.9 L813.1 95.0 L810.7 94.5 L808.3 94.4 L805.9 94.9 L803.7 95.7 L801.6 96.8 L799.8 98.1 L798.1 99.5 L796.5 101.1 L795.0 102.7 L793.6 104.3 L792.3 106.0 L791.1 107.7 L789.9 109.5 L788.8 111.2 L787.8 113.0 L786.8 114.9 L785.8 116.7 L784.9 118.6 L784.1 120.5 L783.3 122.3 L782.5 124.2 L781.7 126.1 L780.9 127.9 L780.2 129.8 L779.4 131.6 L778.6 133.5 L777.8 135.3 L777.0 137.1 L776.3 139.0 L775.5 140.8 L774.7 142.7 L774.0 144.6 L773.2 146.4 L772.5 148.3 L771.7 150.1 L771.0 152.0 L770.3 153.9 L769.5 155.7 L768.8 157.6 L768.1 159.5 L767.4 161.4 L766.7 163.3 L766.0 165.2 L765.4 167.1 L764.7 169.1 L764.1 171.0 L763.5 172.9 L762.9 174.8 L762.3 176.8 L761.8 178.7 L761.2 180.6 L760.7 182.6 L760.1 184.5 L759.6 186.4 L759.0 188.3 L758.5 190.3 L757.9 192.2 L757.3 194.1 L756.8 196.0 L756.2 197.9 L755.6 199.8 L755.0 201.7 L754.4 203.6 L753.8 205.4 L753.1 207.3 L752.5 209.2 L751.8 211.0 L751.1 212.8 L750.4 214.6 L749.6 216.4 L748.8 218.2 L748.0 220.0 L747.2 221.8 L746.3 223.6 L745.5 225.4 L744.6 227.2 L743.8 229.0 L742.9 230.8 L742.1 232.6 L741.2 234.4 L740.4 236.2 L739.5 237.9 L738.6 239.7 L737.7 241.4 L736.7 243.2 L735.7 244.9 L734.8 246.6 L733.8 248.3 L732.8 250.0 L731.7 251.6 L730.7 253.3 L729.6 254.9 L728.5 256.5 L727.4 258.2 L726.3 259.9 L725.2 261.5 L724.1 263.2 L723.0 264.9 L721.9 266.5 L720.8 268.2 L719.7 269.8 L718.5 271.3 L717.4 272.8 L716.2 274.3 L715.0 275.8 L713.7 277.3 L712.4 278.7 L711.2 280.0 L709.8 281.2 L708.5 282.4 L707.0 283.5 L705.5 284.6 L704.0 285.7 L702.4 286.8 L700.8 287.9 L699.2 289.0 L697.5 290.1 L695.9 291.2 L694.2 292.3 L692.6 293.3 L691.0 294.3 L689.3 295.3 L687.7 296.2 L686.0 297.1 L684.3 297.9 L682.6 298.6 L680.9 299.3 L679.2 300.0 L677.4 300.7 L675.5 301.3 L673.6 302.0 L671.7 302.8 L669.7 303.6 L667.8 304.5 L665.9 305.5 L664.0 306.5 L662.2 307.6 L660.5 308.6 L658.7 309.7 L657.0 310.7 L655.2 311.8 L653.5 312.9 L651.8 314.0 L650.1 315.2 L648.4 316.4 L646.7 317.6 L645.1 318.8 L643.5 319.9 L641.9 321.1 L640.3 322.2 L638.8 323.2 L637.2 324.2 L635.6 325.1 L633.9 326.0 L632.2 326.9 L630.5 327.7 L628.7 328.6 L626.9 329.5 L625.2 330.3 L623.4 331.2 L621.6 332.0 L619.8 332.8 L618.1 333.6 L616.3 334.4 L614.5 335.1 L612.8 335.7 L611.0 336.4 L609.2 337.0 L607.4 337.5 L605.5 338.1 L603.6 338.7 L601.7 339.2 L599.7 339.8 L597.8 340.5 L595.9 341.1 L594.2 341.6 L592.4 342.1 L590.8 342.4 L589.2 342.7 L587.7 342.8 L586.2 342.8 L584.6 342.7 L583.0 342.5 L581.4 342.2 L579.8 341.9 L578.1 341.4 L576.5 340.9 L574.9 340.3 L573.3 339.6 L571.7 338.9 L570.2 338.1 L568.9 337.3 L567.7 336.5 L566.6 335.8 L565.7 335.2 L565.0 334.7 L561.1 331.2 L561.1 331.2 Z" fill="#4A83C8"/>
<circle cx="559.3" cy="335.2" r="4.4" fill="#4A83C8"/>
<circle cx="559.3" cy="423.0" r="4.4" fill="#C0504D"/>
</g>
<text x="411" y="211" style="font-family:'Liberation Sans',sans-serif;font-size:42px;font-weight:bold;fill:#000">d</text>
<text x="931" y="211" style="font-family:'Liberation Sans',sans-serif;font-size:42px;font-weight:bold;fill:#000">b</text>
<text x="411" y="439" style="font-family:'Liberation Sans',sans-serif;font-size:42px;font-weight:bold;fill:#000">c</text>
<text x="931" y="439" style="font-family:'Liberation Sans',sans-serif;font-size:42px;font-weight:bold;fill:#000">a</text>
<text x="516" y="679" textLength="216.5" lengthAdjust="spacingAndGlyphs" style="font-family:'Liberation Sans',sans-serif;font-size:44px;font-weight:bold;fill:#000">Wavelength</text>
<text x="710.3" y="679" style="font-family:'Liberation Sans','Noto Sans CJK JP',sans-serif;font-size:43px;font-weight:500;fill:#000">（</text>
<text x="754" y="679" textLength="57.7" lengthAdjust="spacingAndGlyphs" style="font-family:'Liberation Sans',sans-serif;font-size:44px;font-weight:bold;fill:#000">nm</text>
<text x="811.9" y="679" style="font-family:'Liberation Sans','Noto Sans CJK JP',sans-serif;font-size:43px;font-weight:500;fill:#000">）</text>
<g transform="translate(36 458.4) rotate(-90)"><text x="-1.8" y="0" textLength="164.2" lengthAdjust="spacingAndGlyphs" style="font-family:'Liberation Sans',sans-serif;font-size:44px;font-weight:bold;fill:#000">Intensity</text><text x="166.5" y="0" style="font-family:'Liberation Sans','Noto Sans CJK JP',sans-serif;font-size:43px;font-weight:500;fill:#000">（</text><text x="205.7" y="0" textLength="67.7" lengthAdjust="spacingAndGlyphs" style="font-family:'Liberation Sans',sans-serif;font-size:44px;font-weight:bold;fill:#000">a.u.</text><text x="269.3" y="0" style="font-family:'Liberation Sans','Noto Sans CJK JP',sans-serif;font-size:43px;font-weight:500;fill:#000">）</text></g>

<g>
<defs>
<filter id="b1" filterUnits="userSpaceOnUse" x="1220" y="60" width="360" height="460"><feGaussianBlur stdDeviation="1.2"/></filter>
<filter id="b2" filterUnits="userSpaceOnUse" x="1220" y="60" width="360" height="460"><feGaussianBlur stdDeviation="2"/></filter>
<filter id="b3" filterUnits="userSpaceOnUse" x="1220" y="60" width="360" height="460"><feGaussianBlur stdDeviation="4"/></filter>
<filter id="b4" filterUnits="userSpaceOnUse" x="1220" y="60" width="360" height="460"><feGaussianBlur stdDeviation="7"/></filter>
<linearGradient id="gL" gradientUnits="userSpaceOnUse" x1="0" y1="232" x2="0" y2="407">
 <stop offset="0" stop-color="#062006"/><stop offset="0.1" stop-color="#0a4a0a"/><stop offset="0.17" stop-color="#0e6e0e"/><stop offset="0.24" stop-color="#18b018"/><stop offset="0.34" stop-color="#24e424"/><stop offset="0.8" stop-color="#22e022"/><stop offset="1" stop-color="#1ad01a"/>
</linearGradient>
<linearGradient id="gR1" gradientUnits="userSpaceOnUse" x1="0" y1="215" x2="0" y2="405">
 <stop offset="0" stop-color="#061a06"/><stop offset="0.3" stop-color="#0a460a"/><stop offset="0.42" stop-color="#139013"/><stop offset="0.5" stop-color="#17a017"/><stop offset="0.65" stop-color="#18a83a"/><stop offset="1" stop-color="#14905a"/>
</linearGradient>
<linearGradient id="gR2" gradientUnits="userSpaceOnUse" x1="0" y1="232" x2="0" y2="407">
 <stop offset="0" stop-color="#108a10"/><stop offset="0.2" stop-color="#1ed01e"/><stop offset="0.6" stop-color="#24ea24"/><stop offset="1" stop-color="#1ad020"/>
</linearGradient>
<linearGradient id="gRL" gradientUnits="userSpaceOnUse" x1="0" y1="236" x2="0" y2="405">
 <stop offset="0" stop-color="#0c5a0c"/><stop offset="0.06" stop-color="#0f700f"/><stop offset="0.12" stop-color="#1cc41c"/><stop offset="0.25" stop-color="#22e022"/><stop offset="0.6" stop-color="#24ea24"/><stop offset="1" stop-color="#1ad020"/>
</linearGradient>
<linearGradient id="gRR" gradientUnits="userSpaceOnUse" x1="0" y1="215" x2="0" y2="407">
 <stop offset="0" stop-color="#082e08"/><stop offset="0.1" stop-color="#0e6e0e"/><stop offset="0.16" stop-color="#18b018"/><stop offset="0.3" stop-color="#22e022"/><stop offset="0.6" stop-color="#24ea24"/><stop offset="1" stop-color="#1ad020"/>
</linearGradient>
<linearGradient id="refl" gradientUnits="userSpaceOnUse" x1="0" y1="408" x2="0" y2="513">
 <stop offset="0" stop-color="#0a3a0a"/><stop offset="0.3" stop-color="#14901c"/><stop offset="0.6" stop-color="#12801a"/><stop offset="1" stop-color="#062006"/>
</linearGradient>
<linearGradient id="refl2" gradientUnits="userSpaceOnUse" x1="0" y1="408" x2="0" y2="500">
 <stop offset="0" stop-color="#0c3a0c"/><stop offset="0.5" stop-color="#0b300b"/><stop offset="1" stop-color="#060606"/>
</linearGradient>
<clipPath id="pc"><rect x="1232" y="66" width="334" height="447"/></clipPath>
</defs>
<rect x="1232" y="66" width="334" height="447" fill="#050505"/>
<g clip-path="url(#pc)">
<path d="M1327 167 L1386 167.5" fill="none" stroke="#222220" stroke-width="3.5" filter="url(#b1)"/><path d="M1330 170 L1329 232 M1384 170 L1380 215" fill="none" stroke="#0f110f" stroke-width="3" filter="url(#b2)"/><path d="M1401 170 L1402 236 M1458 172 L1452 215" fill="none" stroke="#0f110f" stroke-width="3" filter="url(#b2)"/>
<path d="M1401 168 L1460 168.5" fill="none" stroke="#2a2a24" stroke-width="3.5" filter="url(#b1)"/>
<path d="M1458 169 Q1463 170 1464 178 L1464 193" fill="none" stroke="#3a3a16" stroke-width="3" filter="url(#b1)"/>
<!-- reflections -->
<ellipse cx="1435" cy="455" rx="9" ry="50" fill="#0e6a12" filter="url(#b4)" opacity="0.9"/>
<path d="M1431 410 L1440 410 L1439 505 L1431 505 Z" fill="url(#refl)" filter="url(#b3)"/>
<rect x="1323" y="408" width="9" height="95" fill="url(#refl2)" filter="url(#b3)"/>
<rect x="1395" y="408" width="8" height="95" fill="url(#refl2)" filter="url(#b3)"/>
<!-- dim arcs -->
<path d="M1354 214 Q1352 250 1372 262 M1338 272 Q1355 284 1370 272" fill="none" stroke="#1c2620" stroke-width="2.5" filter="url(#b1)"/>
<path d="M1420 225 Q1440 235 1440 262 M1414 282 Q1428 290 1440 280" fill="none" stroke="#1a3028" stroke-width="3" filter="url(#b1)"/>
<ellipse cx="1417" cy="246" rx="9" ry="6" fill="#2a5a44" filter="url(#b3)"/>
<!-- glows -->
<ellipse cx="1327.5" cy="330" rx="10" ry="60" fill="#129012" filter="url(#b4)" opacity="0.75"/>
<ellipse cx="1401.5" cy="335" rx="9" ry="55" fill="#129012" filter="url(#b4)" opacity="0.65"/>
<ellipse cx="1446" cy="330" rx="13" ry="60" fill="#16a016" filter="url(#b4)" opacity="0.75"/>
<!-- left cuvette -->
<path d="M1324.5 232.0 L1324.4 235.0 L1324.3 238.0 L1324.2 241.0 L1324.1 244.0 L1324.0 247.0 L1323.9 250.0 L1323.8 253.0 L1323.7 256.0 L1323.6 259.0 L1323.5 262.0 L1323.4 265.0 L1323.3 268.0 L1323.2 271.0 L1323.1 274.0 L1323.0 277.0 L1322.9 280.0 L1322.8 283.0 L1322.6 286.0 L1322.5 289.0 L1322.4 292.0 L1322.3 295.0 L1322.2 298.0 L1322.1 301.0 L1322.0 304.0 L1321.9 307.0 L1321.8 310.0 L1321.6 313.0 L1321.5 316.0 L1321.4 319.0 L1321.3 322.0 L1321.2 325.0 L1321.1 328.0 L1321.0 331.0 L1321.2 334.0 L1321.3 337.0 L1321.5 340.0 L1321.7 343.0 L1321.8 346.0 L1322.0 349.0 L1322.1 352.0 L1322.2 355.0 L1322.4 358.0 L1322.5 361.0 L1322.7 364.0 L1322.8 367.0 L1323.0 370.0 L1323.2 373.0 L1323.3 376.0 L1323.5 379.0 L1323.6 382.0 L1323.8 385.0 L1323.9 388.0 L1324.0 391.0 L1324.0 394.0 L1324.0 397.0 L1324.0 400.0 L1324.0 403.0 L1324.0 406.0 L1324.0 407.0 L1331.0 407.0 L1331.0 406.0 L1331.0 403.0 L1331.0 400.0 L1331.0 397.0 L1331.0 394.0 L1331.0 391.0 L1331.1 388.0 L1331.2 385.0 L1331.4 382.0 L1331.5 379.0 L1331.7 376.0 L1331.8 373.0 L1332.0 370.0 L1332.2 367.0 L1332.3 364.0 L1332.5 361.0 L1332.6 358.0 L1332.8 355.0 L1332.9 352.0 L1333.0 349.0 L1333.2 346.0 L1333.3 343.0 L1333.5 340.0 L1333.7 337.0 L1333.8 334.0 L1334.0 331.0 L1333.9 328.0 L1333.8 325.0 L1333.7 322.0 L1333.6 319.0 L1333.5 316.0 L1333.4 313.0 L1333.2 310.0 L1333.1 307.0 L1333.0 304.0 L1332.9 301.0 L1332.8 298.0 L1332.7 295.0 L1332.6 292.0 L1332.5 289.0 L1332.4 286.0 L1332.2 283.0 L1332.1 280.0 L1332.0 277.0 L1331.9 274.0 L1331.8 271.0 L1331.7 268.0 L1331.6 265.0 L1331.5 262.0 L1331.4 259.0 L1331.3 256.0 L1331.2 253.0 L1331.1 250.0 L1331.0 247.0 L1330.9 244.0 L1330.8 241.0 L1330.7 238.0 L1330.6 235.0 L1330.5 232.0 Z" fill="url(#gL)" filter="url(#b2)"/>
<ellipse cx="1327.5" cy="328" rx="3.5" ry="22" fill="#f6ffe6" filter="url(#b2)"/>
<ellipse cx="1327.5" cy="403" rx="3.5" ry="3.5" fill="#30f030" filter="url(#b1)"/>
<path d="M1370.5 215.0 L1370.5 218.0 L1370.4 221.0 L1370.4 224.0 L1370.3 227.0 L1370.3 230.0 L1370.3 233.0 L1370.2 236.0 L1370.2 239.0 L1370.1 242.0 L1370.1 245.0 L1370.0 248.0 L1370.0 251.0 L1370.0 254.0 L1369.9 257.0 L1369.9 260.0 L1369.8 263.0 L1369.8 266.0 L1369.8 269.0 L1369.7 272.0 L1369.7 275.0 L1369.6 278.0 L1369.6 281.0 L1369.5 284.0 L1369.5 287.0 L1369.5 290.0 L1369.4 293.0 L1369.4 296.0 L1369.3 299.0 L1369.3 302.0 L1369.2 305.0 L1369.1 308.0 L1369.0 311.0 L1369.0 314.0 L1368.9 317.0 L1368.8 320.0 L1368.7 323.0 L1368.6 326.0 L1368.6 329.0 L1368.5 332.0 L1368.4 335.0 L1368.3 338.0 L1368.4 341.0 L1368.4 344.0 L1368.4 347.0 L1368.4 350.0 L1368.5 353.0 L1368.5 356.0 L1368.5 359.0 L1368.5 362.0 L1368.6 365.0 L1368.6 368.0 L1368.6 371.0 L1368.6 374.0 L1368.7 377.0 L1368.7 380.0 L1368.7 383.0 L1368.7 386.0 L1368.6 389.0 L1368.6 392.0 L1368.6 395.0 L1368.6 398.0 L1368.5 401.0 L1368.5 404.0 L1368.5 405.0 L1373.5 405.0 L1373.5 404.0 L1373.5 401.0 L1373.6 398.0 L1373.6 395.0 L1373.6 392.0 L1373.6 389.0 L1373.7 386.0 L1373.7 383.0 L1373.7 380.0 L1373.8 377.0 L1373.8 374.0 L1373.9 371.0 L1374.0 368.0 L1374.1 365.0 L1374.1 362.0 L1374.2 359.0 L1374.3 356.0 L1374.4 353.0 L1374.4 350.0 L1374.5 347.0 L1374.6 344.0 L1374.7 341.0 L1374.7 338.0 L1374.7 335.0 L1374.7 332.0 L1374.6 329.0 L1374.6 326.0 L1374.6 323.0 L1374.5 320.0 L1374.5 317.0 L1374.5 314.0 L1374.4 311.0 L1374.4 308.0 L1374.4 305.0 L1374.3 302.0 L1374.3 299.0 L1374.3 296.0 L1374.3 293.0 L1374.3 290.0 L1374.4 287.0 L1374.4 284.0 L1374.4 281.0 L1374.4 278.0 L1374.4 275.0 L1374.4 272.0 L1374.4 269.0 L1374.4 266.0 L1374.4 263.0 L1374.4 260.0 L1374.4 257.0 L1374.4 254.0 L1374.4 251.0 L1374.4 248.0 L1374.4 245.0 L1374.4 242.0 L1374.5 239.0 L1374.5 236.0 L1374.5 233.0 L1374.5 230.0 L1374.5 227.0 L1374.5 224.0 L1374.5 221.0 L1374.5 218.0 L1374.5 215.0 Z" fill="url(#gR1)" filter="url(#b1)"/>
<ellipse cx="1374" cy="339" rx="3" ry="5" fill="#30e030" filter="url(#b1)"/>
<rect x="1333" y="333.5" width="37" height="5" fill="#1a5a16" filter="url(#b1)"/>
<rect x="1333" y="376.5" width="36" height="2.5" fill="#143434" filter="url(#b1)"/>
<rect x="1333" y="388.8" width="36" height="4" fill="#237684" filter="url(#b1)"/>
<rect x="1331" y="400" width="39" height="4" fill="#1f7a55" filter="url(#b1)"/>
<ellipse cx="1332" cy="244" rx="6" ry="6" fill="#138a13" filter="url(#b2)"/>
<ellipse cx="1341" cy="222" rx="4" ry="5" fill="#0e6a0e" filter="url(#b2)"/>
<ellipse cx="1367.5" cy="216" rx="4" ry="4" fill="#139013" filter="url(#b2)"/>
<ellipse cx="1372.5" cy="247" rx="4" ry="5" fill="#127a12" filter="url(#b2)"/>
<ellipse cx="1368" cy="276" rx="4" ry="4" fill="#127a12" filter="url(#b2)"/>
<ellipse cx="1339" cy="279" rx="5" ry="3" fill="#0e6a0e" filter="url(#b2)"/>
<!-- right cuvette -->
<path d="M1399.5 236.0 L1399.4 239.0 L1399.2 242.0 L1399.1 245.0 L1399.0 248.0 L1398.8 251.0 L1398.7 254.0 L1398.6 257.0 L1398.4 260.0 L1398.3 263.0 L1398.2 266.0 L1398.0 269.0 L1397.9 272.0 L1397.8 275.0 L1397.6 278.0 L1397.5 281.0 L1397.4 284.0 L1397.2 287.0 L1397.1 290.0 L1397.0 293.0 L1396.9 296.0 L1396.7 299.0 L1396.6 302.0 L1396.4 305.0 L1396.3 308.0 L1396.2 311.0 L1396.0 314.0 L1395.9 317.0 L1395.7 320.0 L1395.6 323.0 L1395.5 326.0 L1395.3 329.0 L1395.2 332.0 L1395.1 335.0 L1394.9 338.0 L1394.9 341.0 L1395.0 344.0 L1395.1 347.0 L1395.2 350.0 L1395.3 353.0 L1395.3 356.0 L1395.4 359.0 L1395.5 362.0 L1395.6 365.0 L1395.7 368.0 L1395.8 371.0 L1395.8 374.0 L1395.9 377.0 L1396.0 380.0 L1396.0 383.0 L1396.0 386.0 L1396.0 389.0 L1396.0 392.0 L1396.0 395.0 L1396.0 398.0 L1396.0 401.0 L1396.0 404.0 L1396.0 405.0 L1403.0 405.0 L1403.0 404.0 L1403.2 401.0 L1403.3 398.0 L1403.4 395.0 L1403.5 392.0 L1403.7 389.0 L1403.8 386.0 L1403.9 383.0 L1404.0 380.0 L1404.2 377.0 L1404.4 374.0 L1404.6 371.0 L1404.9 368.0 L1405.1 365.0 L1405.3 362.0 L1405.5 359.0 L1405.7 356.0 L1405.9 353.0 L1406.1 350.0 L1406.3 347.0 L1406.5 344.0 L1406.7 341.0 L1406.9 338.0 L1406.8 335.0 L1406.8 332.0 L1406.8 329.0 L1406.8 326.0 L1406.8 323.0 L1406.8 320.0 L1406.8 317.0 L1406.7 314.0 L1406.7 311.0 L1406.7 308.0 L1406.7 305.0 L1406.7 302.0 L1406.7 299.0 L1406.7 296.0 L1406.7 293.0 L1406.6 290.0 L1406.6 287.0 L1406.6 284.0 L1406.6 281.0 L1406.6 278.0 L1406.6 275.0 L1406.6 272.0 L1406.6 269.0 L1406.6 266.0 L1406.6 263.0 L1406.6 260.0 L1406.6 257.0 L1406.5 254.0 L1406.5 251.0 L1406.5 248.0 L1406.5 245.0 L1406.5 242.0 L1406.5 239.0 L1406.5 236.0 Z" fill="url(#gRL)" filter="url(#b2)"/>
<path d="M1445.0 215.0 L1444.7 218.0 L1444.5 221.0 L1444.2 224.0 L1444.0 227.0 L1443.7 230.0 L1443.5 233.0 L1443.2 236.0 L1443.0 239.0 L1442.8 242.0 L1442.6 245.0 L1442.5 248.0 L1442.3 251.0 L1442.2 254.0 L1442.1 257.0 L1441.9 260.0 L1441.8 263.0 L1441.7 266.0 L1441.6 269.0 L1441.5 272.0 L1441.3 275.0 L1441.2 278.0 L1441.1 281.0 L1441.0 284.0 L1440.9 287.0 L1440.8 290.0 L1440.7 293.0 L1440.6 296.0 L1440.5 299.0 L1440.3 302.0 L1440.0 305.0 L1439.8 308.0 L1439.6 311.0 L1439.3 314.0 L1439.1 317.0 L1438.9 320.0 L1438.7 323.0 L1438.4 326.0 L1438.2 329.0 L1438.0 332.0 L1437.7 335.0 L1437.5 338.0 L1437.5 341.0 L1437.5 344.0 L1437.5 347.0 L1437.5 350.0 L1437.5 353.0 L1437.4 356.0 L1437.4 359.0 L1437.4 362.0 L1437.4 365.0 L1437.4 368.0 L1437.3 371.0 L1437.1 374.0 L1436.9 377.0 L1436.7 380.0 L1436.5 383.0 L1436.3 386.0 L1436.1 389.0 L1435.9 392.0 L1435.7 395.0 L1435.5 398.0 L1435.3 401.0 L1435.1 404.0 L1435.0 407.0 L1443.0 407.0 L1443.1 404.0 L1443.5 401.0 L1443.9 398.0 L1444.3 395.0 L1444.6 392.0 L1445.0 389.0 L1445.4 386.0 L1445.8 383.0 L1446.1 380.0 L1446.5 377.0 L1446.9 374.0 L1447.3 371.0 L1447.8 368.0 L1448.3 365.0 L1448.9 362.0 L1449.5 359.0 L1450.1 356.0 L1450.6 353.0 L1451.2 350.0 L1451.8 347.0 L1452.4 344.0 L1452.9 341.0 L1453.5 338.0 L1453.4 335.0 L1453.3 332.0 L1453.2 329.0 L1453.2 326.0 L1453.1 323.0 L1453.0 320.0 L1452.9 317.0 L1452.8 314.0 L1452.7 311.0 L1452.7 308.0 L1452.6 305.0 L1452.5 302.0 L1452.4 299.0 L1452.5 296.0 L1452.5 293.0 L1452.5 290.0 L1452.6 287.0 L1452.6 284.0 L1452.7 281.0 L1452.7 278.0 L1452.7 275.0 L1452.8 272.0 L1452.8 269.0 L1452.8 266.0 L1452.9 263.0 L1452.9 260.0 L1452.9 257.0 L1452.9 254.0 L1452.9 251.0 L1452.9 248.0 L1452.9 245.0 L1452.9 242.0 L1452.9 239.0 L1452.7 236.0 L1452.6 233.0 L1452.5 230.0 L1452.4 227.0 L1452.3 224.0 L1452.2 221.0 L1452.1 218.0 L1452.0 215.0 Z" fill="url(#gRR)" filter="url(#b2)"/>
<ellipse cx="1401.5" cy="339" rx="3.5" ry="9" fill="#faffe8" filter="url(#b2)"/>
<ellipse cx="1445" cy="338" rx="7.5" ry="12" fill="#ffffff" filter="url(#b2)"/>
<rect x="1408" y="333.5" width="29" height="8" fill="#8c6a1a" filter="url(#b1)"/>
<rect x="1406" y="377" width="32" height="2.5" fill="#163838" filter="url(#b1)"/>
<rect x="1404" y="389.7" width="34" height="4" fill="#237a7a" filter="url(#b1)"/>
<rect x="1402" y="399.8" width="36" height="4.5" fill="#1cb030" filter="url(#b1)"/>
<ellipse cx="1399.5" cy="401" rx="4" ry="4.5" fill="#30f030" filter="url(#b1)"/>
<ellipse cx="1439" cy="403" rx="4" ry="5" fill="#30f040" filter="url(#b1)"/>
<ellipse cx="1407" cy="239" rx="5" ry="4.5" fill="#28e028" filter="url(#b2)"/>
<ellipse cx="1448.3" cy="260" rx="4" ry="5" fill="#b0ffb0" filter="url(#b2)"/>
<ellipse cx="1420.6" cy="223.3" rx="4" ry="4" fill="#118011" filter="url(#b2)"/>
<ellipse cx="1414.8" cy="284.4" rx="5" ry="4" fill="#139013" filter="url(#b2)"/>
<ellipse cx="1433.7" cy="285.9" rx="4" ry="4" fill="#139013" filter="url(#b2)"/>
<ellipse cx="1441" cy="281.5" rx="4" ry="4" fill="#16a016" filter="url(#b2)"/>
</g>
</g>
</svg>
</body></html>
